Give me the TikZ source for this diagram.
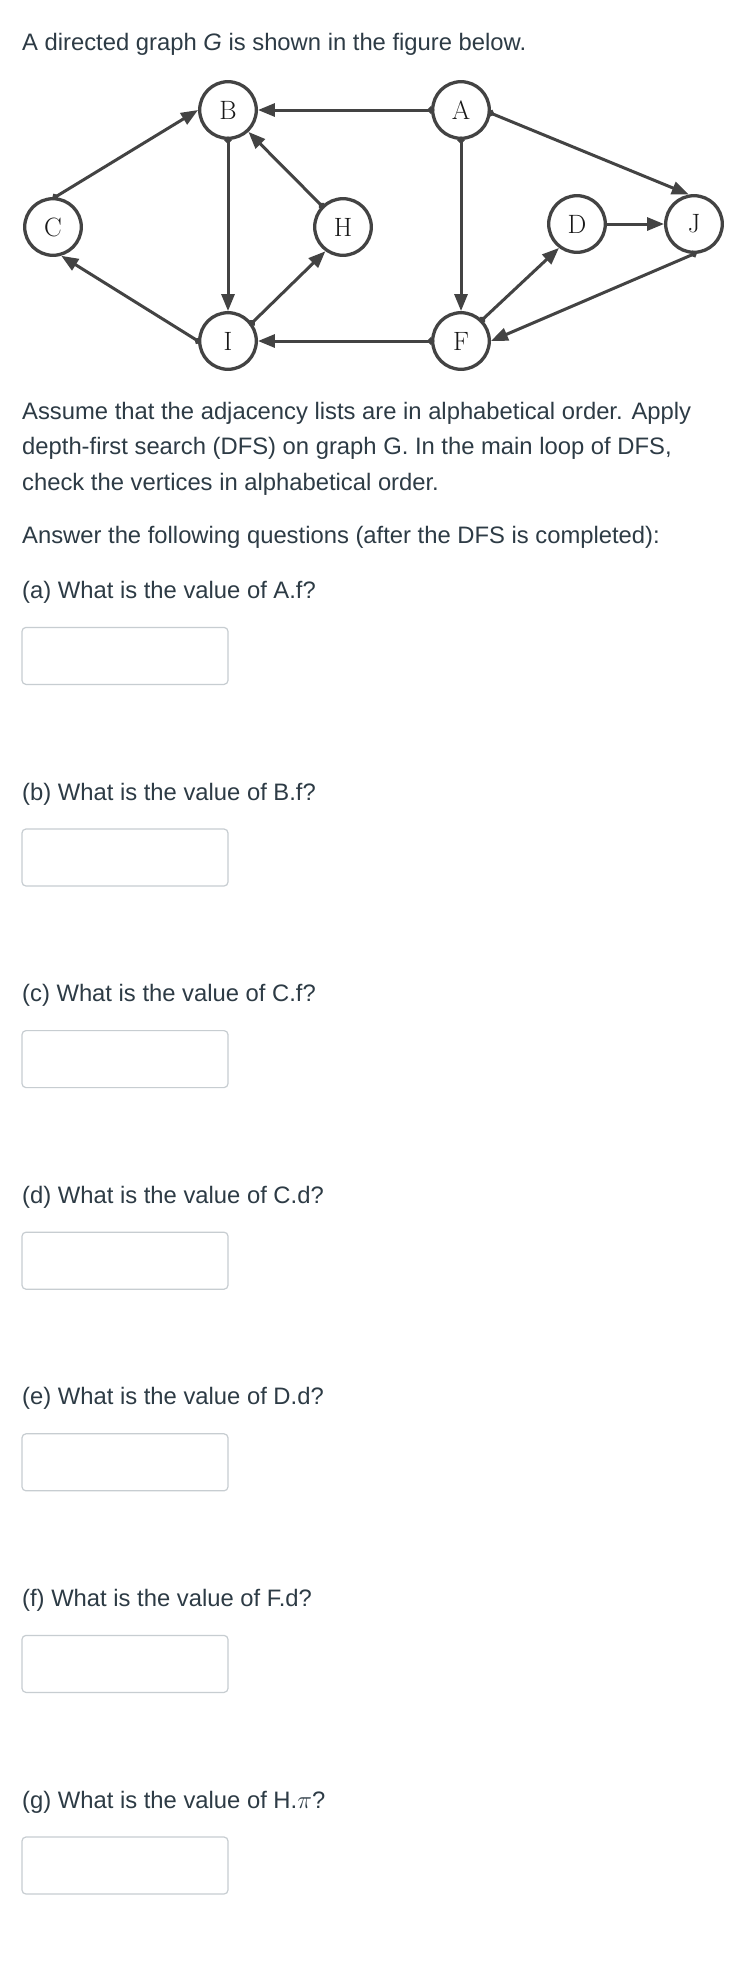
\documentclass[tikz,border=0pt]{standalone}
\usepackage{fontspec}
\newfontfamily\uifont{Liberation Sans}
\usetikzlibrary{arrows.meta}
\definecolor{txtc}{HTML}{2D3B45}
\definecolor{edgec}{HTML}{434343}
\definecolor{boxc}{HTML}{C7CDD1}
\tikzset{
  txt/.style={anchor=base west, inner sep=0pt, text=txtc, font=\uifont\fontsize{23.8}{28}\selectfont},
  vtx/.style={circle, draw=edgec, line width=3.3pt, minimum size=56.6pt, inner sep=0pt, fill=white,
     font=\fontsize{26.5}{26.5}\selectfont, text=black!90},
  edge/.style={draw=edgec, line width=3pt, shorten <=-3pt,
     {Circle[length=6.5pt]}-{Triangle[length=17pt,width=13pt]}},
  edgenodot/.style={draw=edgec, line width=3pt, -{Triangle[length=17pt,width=13pt]}},
  ansbox/.style={draw=boxc, line width=1.2pt, rounded corners=4pt, fill=white}
}
\begin{document}
\begin{tikzpicture}[x=1pt,y=-1pt]
\useasboundingbox (0,0) rectangle (752,1966);
\fill[white] (0,0) rectangle (752,1966);

\node[txt] (t0) at (22,50.7) {A directed graph \textit{G} is shown in the figure below.};

% vertices
\node[vtx] (B) at (228,110) {B};
\node[vtx] (A) at (461,110) {A};
\node[vtx] (C) at (53,227) {C};
\node[vtx] (H) at (343,227) {H};
\node[vtx] (D) at (577,224) {D};
\node[vtx] (J) at (694,224) {J};
\node[vtx] (I) at (228,341) {I};
\node[vtx] (F) at (461,341) {F};

% edges
\draw[edge] (C.86) -- (B.180);
\draw[edge] (B.south) -- (I.north);
\draw[edge] (H.135) -- (B.-47);
\draw[edge] (I.180) -- (C.-74);
\draw[edge] (I.37) -- (H.234);
\draw[edge] (A.west) -- (B.east);
\draw[edge] (F.west) -- (I.east);
\draw[edge] (A.south) -- (F.north);
\draw[edge] (A.-6) -- (J.100);
\draw[edge] (F.45) -- (D.233);
\draw[edgenodot] (D.east) -- (J.west);
\draw[edge] (J.south) -- (F.east);

% text
\node[txt] (p1) at (22,419) {Assume that the adjacency lists are in alphabetical order. Apply};
\node[txt] (p2) at (22,454.5) {depth-first search (DFS) on graph G. In the main loop of DFS,};
\node[txt] (p3) at (22,490) {check the vertices in alphabetical order.};
\node[txt] (p4) at (22,543) {Answer the following questions (after the DFS is completed):};

\node[txt] (qa) at (22,598.4) {(a) What is the value of A.f?};
\node[txt] (qb) at (22,800) {(b) What is the value of B.f?};
\node[txt] (qc) at (22,1001.6) {(c) What is the value of C.f?};
\node[txt] (qd) at (22,1203.2) {(d) What is the value of C.d?};
\node[txt] (qe) at (22,1404.8) {(e) What is the value of D.d?};
\node[txt] (qf) at (22,1606.4) {(f) What is the value of F.d?};
\node[txt] (qg) at (22,1808) {(g) What is the value of H.$\pi$?};

\foreach \b in {598.4,800,1001.6,1203.2,1404.8,1606.4,1808}{
  \draw[ansbox] (22,\b+29) rectangle (228,\b+86);
}
\end{tikzpicture}
\end{document}
